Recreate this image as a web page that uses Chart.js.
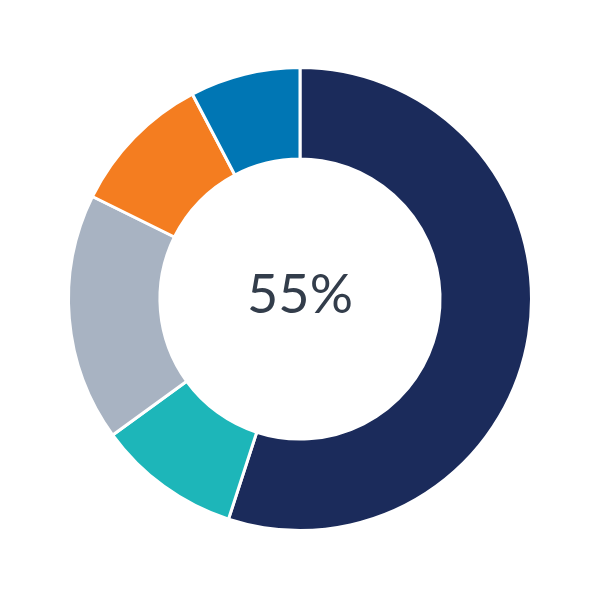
<!DOCTYPE html>
<html>
<head>
<meta charset="utf-8">
<script src="https://cdn.jsdelivr.net/npm/chart.js@4/dist/chart.umd.min.js"></script>
<style>
html,body{margin:0;padding:0;background:#fff;}
#wrap{width:600px;height:599px;position:relative;}
</style>
</head>
<body>
<div id="wrap"><canvas id="c" width="600" height="599"></canvas></div>
<script>
const categories = ["Segment A", "Segment B", "Segment C", "Segment D", "Segment E"];
const values = [55, 10, 17.3, 10, 7.7];
const colors = ["#1b2b5b", "#1db6b9", "#a8b3c2", "#f47d20", "#0076b4"];
const centerLabel = "55%";

const centerText = {
  id: "centerText",
  afterDraw(chart) {
    const meta = chart.getDatasetMeta(0);
    const arc = meta.data[0];
    if (!arc) return;
    const ctx = chart.ctx;
    ctx.save();
    ctx.font = "400 54px Lato, 'Open Sans', sans-serif";
    ctx.fillStyle = "#333d4b";
    ctx.textAlign = "center";
    ctx.textBaseline = "middle";
    ctx.fillText(centerLabel, arc.x, arc.y - 3);
    ctx.restore();
  }
};

new Chart(document.getElementById("c"), {
  type: "doughnut",
  data: {
    labels: categories,
    datasets: [{
      data: values,
      backgroundColor: colors,
      borderColor: "#ffffff",
      borderWidth: 3,
      hoverOffset: 0
    }]
  },
  options: {
    responsive: false,
    animation: false,
    cutout: "60.5%",
    layout: { padding: { top: 66, bottom: 67, left: 67, right: 67 } },
    plugins: {
      legend: { display: false },
      tooltip: { enabled: false }
    }
  },
  plugins: [centerText]
});
</script>
</body>
</html>
